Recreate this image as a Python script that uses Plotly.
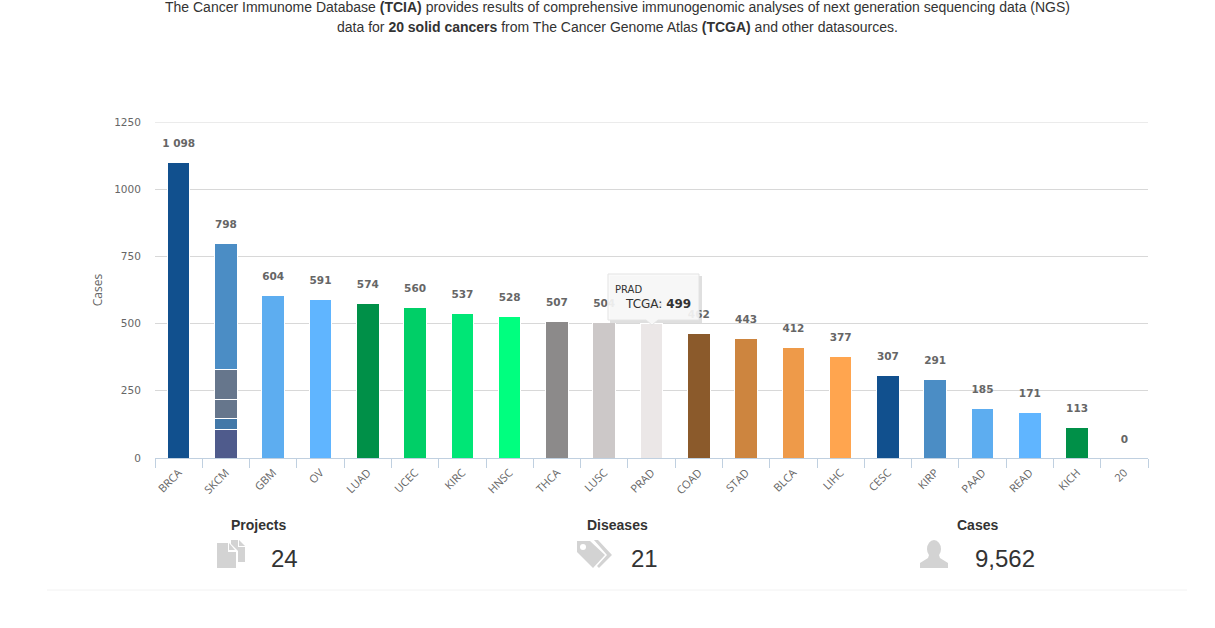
import plotly.graph_objects as go

W = 1215
H = 628
# plot area in page pixels
PL, PR, PT, PB = 155, 1148, 122, 458

categorias = ["BRCA", "SKCM", "GBM", "OV", "LUAD", "UCEC", "KIRC", "HNSC", "THCA", "LUSC", "PRAD",
              "COAD", "STAD", "BLCA", "LIHC", "CESC", "KIRP", "PAAD", "READ", "KICH", "20"]
casos = [1098, 798, 604, 591, 574, 560, 537, 528, 507, 504, 499,
         462, 443, 412, 377, 307, 291, 185, 171, 113, 0]
rotulos = ["1 098", "798", "604", "591", "574", "560", "537", "528", "507", "504", "499",
           "462", "443", "412", "377", "307", "291", "185", "171", "113", "0"]
cores = ["#11508e", "#4b8dc5", "#5dadf0", "#60b5ff", "#009048", "#00cf67", "#00e676", "#00ff7f",
         "#8c8a8a", "#ccc8c8", "#ebe7e7", "#8b5a2b", "#cd853f", "#ee9a49", "#ffa54f", "#11508e",
         "#4b8dc5", "#5dadf0", "#60b5ff", "#009048", "#00cf67"]

# SKCM is stacked from several projects, bottom to top
skcm_valores = [105, 42, 72, 110, 469]
skcm_cores = ["#4f5b8c", "#4278a8", "#66768c", "#66768c", "#4b8dc5"]

y_ticks = [0, 250, 500, 750, 1000, 1250]


def px(x):
    return (x - PL) / (PR - PL)


def py(y):
    return (PB - y) / (PB - PT)


def poligono(pontos):
    return "M " + " L ".join(f"{px(a):.5f},{py(b):.5f}" for a, b in pontos) + " Z"


fig = go.Figure()

# everything except SKCM, which gets its own segments
valores = [0 if c == "SKCM" else v for c, v in zip(categorias, casos)]
fig.add_trace(go.Bar(x=categorias, y=valores, marker=dict(color=cores, line=dict(color="white", width=1)),
                     name="TCGA"))
for v, cor in zip(skcm_valores, skcm_cores):
    fig.add_trace(go.Bar(x=["SKCM"], y=[v], marker=dict(color=cor, line=dict(color="white", width=1))))

# labels as a text trace so the tooltip box can sit on top of them
fig.add_trace(go.Scatter(x=categorias, y=casos, mode="markers+text", text=rotulos,
                         textposition="top center", cliponaxis=False,
                         marker=dict(size=19, opacity=0),
                         textfont=dict(family="DejaVu Sans", size=10.5, color="#666666", weight="bold")))

formas = []
# plotly drops the gridline at the very top of the range
formas.append(dict(type="line", xref="paper", yref="y", x0=0, x1=1, y0=1250, y1=1250,
                   line=dict(color="#d8d8d8", width=1), layer="below"))
# bottom line of the panel
formas.append(dict(type="line", xref="paper", yref="paper", x0=px(47), x1=px(1187), y0=py(590), y1=py(590),
                   line=dict(color="#f2f2f2", width=1), layer="below"))

# tooltip
formas.append(dict(type="path", xref="paper", yref="paper", layer="above",
                   path=poligono([(610, 276), (702, 276), (702, 323), (610, 323)]),
                   fillcolor="rgba(110,110,110,0.22)", line=dict(width=0)))
formas.append(dict(type="path", xref="paper", yref="paper", layer="above",
                   path=poligono([(608, 274), (699, 274), (699, 320), (658, 320), (652, 325), (646, 320), (608, 320)]),
                   fillcolor="rgba(249,249,249,0.9)", line=dict(color="#e4e4e4", width=1)))

# icons
cinza = "#d3d3d3"
icones = [
    # files
    [(217, 543), (228, 543), (228, 552), (236, 552), (236, 568), (217, 568)],
    [(229, 543), (235, 550), (229, 550)],
    [(231, 540), (238, 540), (238, 547), (245, 547), (245, 562), (238, 562), (238, 551), (231, 544)],
    [(239, 540), (245, 546), (239, 546)],
    # tags
    [(577, 541), (590, 541), (605, 555), (593, 568), (577, 552)],
    [(594, 540), (598, 540), (612, 555), (599, 568), (597, 566), (607, 555)],
    # person body
    [(929, 555), (939, 555), (940, 558), (948, 563), (948, 568), (920, 568), (920, 563), (928, 558)],
]
for pts in icones:
    formas.append(dict(type="path", xref="paper", yref="paper", path=poligono(pts), fillcolor=cinza,
                       line=dict(width=0), layer="below"))
formas.append(dict(type="circle", xref="paper", yref="paper", x0=px(580), x1=px(586), y0=py(544), y1=py(550),
                   fillcolor="white", line=dict(width=0), layer="below"))
formas.append(dict(type="circle", xref="paper", yref="paper", x0=px(927), x1=px(941), y0=py(540), y1=py(558),
                   fillcolor=cinza, line=dict(width=0), layer="below"))

sans = "Liberation Sans"


def texto(x, y, s, size, color="#333333", anchor="center", family=sans):
    return dict(xref="paper", yref="paper", x=px(x), y=py(y), text=s, showarrow=False, xanchor=anchor,
                yanchor="middle", font=dict(family=family, size=size, color=color))


notas = [
    texto(617, 7, "The Cancer Immunome Database <b>(TCIA)</b> provides results of comprehensive immunogenomic "
                  "analyses of next generation sequencing data (NGS)", 14),
    texto(617, 27, "data for <b>20 solid cancers</b> from The Cancer Genome Atlas <b>(TCGA)</b> and other datasources.", 14),
    texto(258, 525, "<b>Projects</b>", 14),
    texto(617, 525, "<b>Diseases</b>", 14),
    texto(977, 525, "<b>Cases</b>", 14),
    texto(269, 558, "24", 24, anchor="left"),
    texto(629, 558, "21", 24, anchor="left"),
    texto(973, 558, "9,562", 24, anchor="left"),
    texto(613, 289, "PRAD", 10, anchor="left", family="DejaVu Sans"),
    texto(623, 304, "TCGA: <b>499</b>", 12, anchor="left", family="DejaVu Sans"),
]

fig.update_layout(
    width=W, height=H,
    margin=dict(l=PL, r=W - PR, t=PT, b=H - PB, autoexpand=False),
    paper_bgcolor="white", plot_bgcolor="white",
    barmode="stack", bargap=0.52, showlegend=False,
    shapes=formas, annotations=notas,
    font=dict(family="DejaVu Sans", size=11, color="#666666"),
)
fig.update_xaxes(type="category", categoryorder="array", categoryarray=categorias, range=[-0.5, 20.5],
                 tickangle=-45, ticks="outside", tickson="boundaries", ticklen=9, tickcolor="#c0d0e0",
                 showline=True, linecolor="#c0d0e0", showgrid=False, ticklabelstandoff=3,
                 tickfont=dict(family="Open Sans", size=11, color="#666666"))
fig.update_yaxes(range=[0, 1250], tickvals=y_ticks, gridcolor="#d8d8d8", zeroline=False,
                 ticks="outside", ticklen=11, tickcolor="rgba(0,0,0,0)",
                 title=dict(text="Cases", font=dict(family="Open Sans", size=12, color="#666666"), standoff=8),
                 tickfont=dict(family="DejaVu Sans", size=10.5, color="#666666"))

fig.write_html("out.html", config=dict(displayModeBar=False),
               post_script="document.body.style.margin='0';document.body.style.overflow='hidden';")
